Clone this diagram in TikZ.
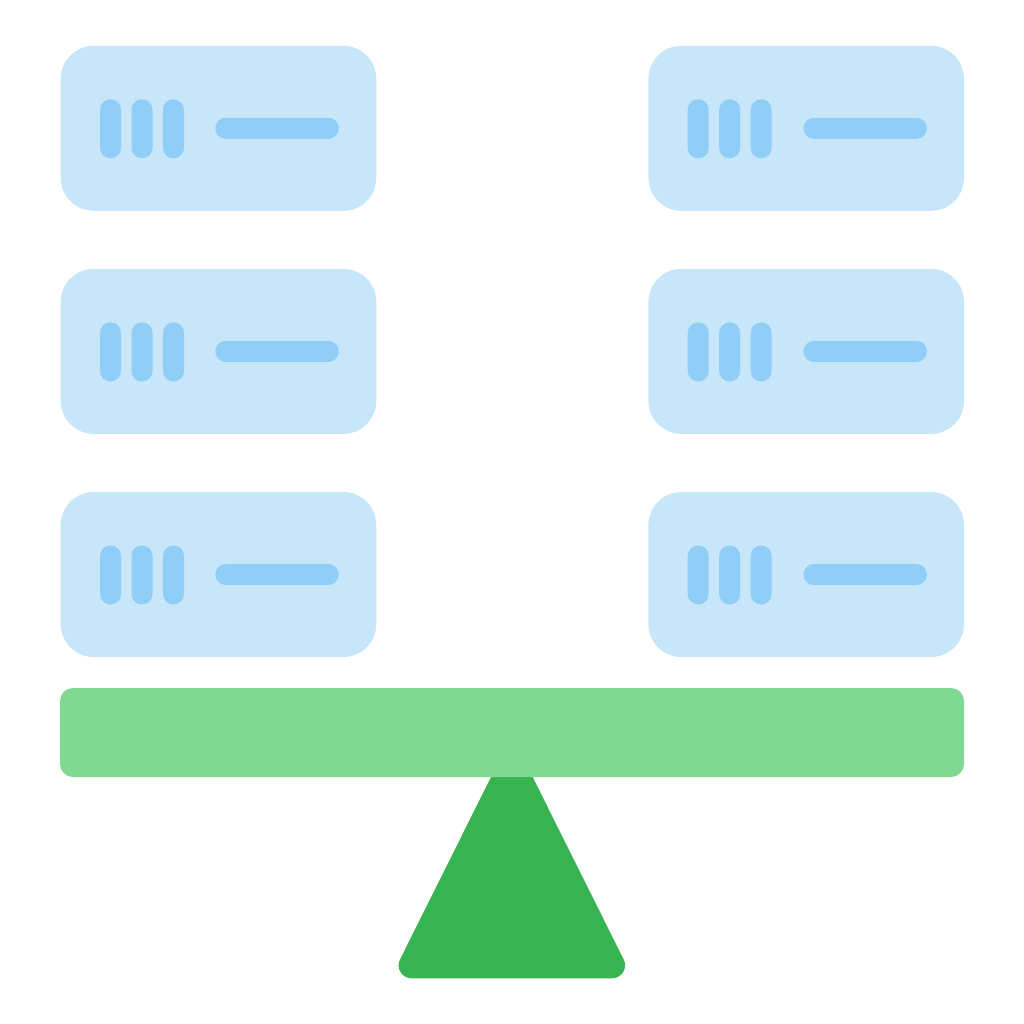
\documentclass[tikz,border=0pt]{standalone}
\definecolor{cardblue}{HTML}{C8E6FA}
\definecolor{barblue}{HTML}{90CDF7}
\definecolor{beamgreen}{HTML}{7FD993}
\definecolor{footgreen}{HTML}{37B34F}
\tikzset{
	card/.style={fill=cardblue, rounded corners=33pt, minimum width=315.6pt, minimum height=165pt, inner sep=0pt},
	slot/.style={fill=barblue, rounded corners=10.4pt, minimum width=21pt, minimum height=59pt, inner sep=0pt},
	dash line/.style={fill=barblue, rounded corners=10.4pt, minimum width=123.4pt, minimum height=21pt, inner sep=0pt},
	beam/.style={fill=beamgreen, rounded corners=13pt, minimum width=904pt, minimum height=89pt, inner sep=0pt}
}
\begin{document}
\begin{tikzpicture}[x=1pt,y=-1pt]
	\useasboundingbox (0,0) rectangle (1024,1024);
	% left column
	\node (La) at (218.5,128.3) [card] {};
	\node (Lb) at (218.5,351.4) [card] {};
	\node (Lc) at (218.5,574.5) [card] {};
	% right column
	\node (Ra) at (806.2,128.3) [card] {};
	\node (Rb) at (806.2,351.4) [card] {};
	\node (Rc) at (806.2,574.5) [card] {};
	% slots and lines on the cards
	\node (Las) at (110.5,128.8) [slot] {};
	\node (Lat) at (142,128.8) [slot] {};
	\node (Lau) at (173.5,128.8) [slot] {};
	\node (Lal) at (277,128.3) [dash line] {};
	\node (Lbs) at (110.5,351.9) [slot] {};
	\node (Lbt) at (142,351.9) [slot] {};
	\node (Lbu) at (173.5,351.9) [slot] {};
	\node (Lbl) at (277,351.4) [dash line] {};
	\node (Lcs) at (110.5,575) [slot] {};
	\node (Lct) at (142,575) [slot] {};
	\node (Lcu) at (173.5,575) [slot] {};
	\node (Lcl) at (277,574.5) [dash line] {};
	\node (Ras) at (698.2,128.8) [slot] {};
	\node (Rat) at (729.7,128.8) [slot] {};
	\node (Rau) at (761.2,128.8) [slot] {};
	\node (Ral) at (865.2,128.3) [dash line] {};
	\node (Rbs) at (698.2,351.9) [slot] {};
	\node (Rbt) at (729.7,351.9) [slot] {};
	\node (Rbu) at (761.2,351.9) [slot] {};
	\node (Rbl) at (865.2,351.4) [dash line] {};
	\node (Rcs) at (698.2,575) [slot] {};
	\node (Rct) at (729.7,575) [slot] {};
	\node (Rcu) at (761.2,575) [slot] {};
	\node (Rcl) at (865.2,574.5) [dash line] {};
	% seesaw
	\fill[footgreen] (511.85,735.3) -- (400,959.5)
		.. controls (395.68,968.15) and (401.93,978.3) .. (411.6,978.3)
		-- (612.1,978.3)
		.. controls (621.77,978.3) and (628.02,968.15) .. (623.7,959.5) -- cycle;
	\node (Be) at (512,732.5) [beam] {};
\end{tikzpicture}
\end{document}
